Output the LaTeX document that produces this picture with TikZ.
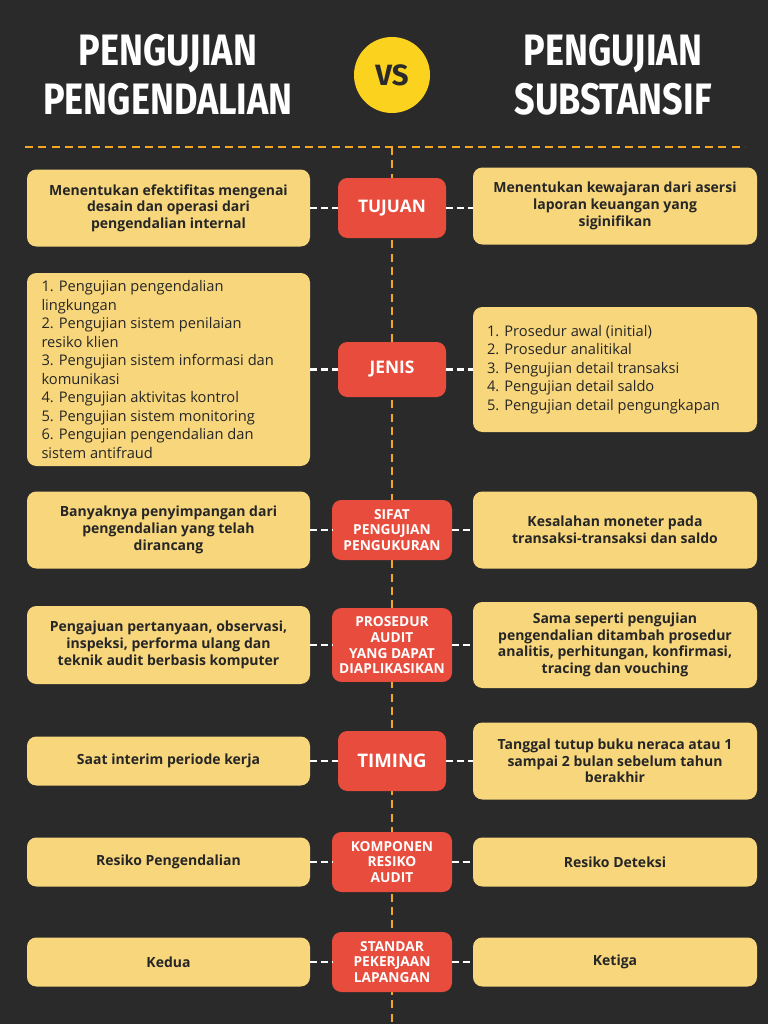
\documentclass[tikz,border=0pt]{standalone}
\usepackage{fontspec}
\setmainfont{Open Sans}
\newfontfamily\titlefont{Fira Sans}
\begin{document}
\begin{tikzpicture}[x=0.75pt,y=-0.75pt,
  yb/.style={fill=boxy,rounded corners=7pt,inner sep=0pt,font=\bfseries\fontsize{10.5}{12.5}\selectfont,text=black!85,align=center},
  rb/.style={fill=boxr,rounded corners=7pt,inner sep=0pt,font=\bfseries\fontsize{10.3}{11.8}\selectfont,text=white,align=center},
  conn/.style={white,line width=2pt,dash pattern=on 5pt off 3pt},
  ttl/.style={text=white,font=\titlefont\bfseries\fontsize{33}{37}\selectfont,align=center,xscale=0.82}]
\definecolor{bg}{HTML}{2A2A2A}
\definecolor{boxy}{HTML}{F7D67C}
\definecolor{boxr}{HTML}{E84C3D}
\definecolor{orn}{HTML}{F5A623}
\definecolor{vsy}{HTML}{FBD21E}
\fill[bg] (0,0) rectangle (768,1024);
\useasboundingbox (0,0) rectangle (768,1024);
\node[ttl] (tl) at (168,75) {PENGUJIAN\\PENGENDALIAN};
\node[ttl] (tr) at (613,75) {PENGUJIAN\\SUBSTANSIF};
\node[circle,fill=vsy,minimum size=76*0.75pt,inner sep=0pt,text=bg,font=\titlefont\bfseries\fontsize{22}{24}\selectfont] (vs) at (392,75) {VS};
\coordinate (hl) at (25,147); \coordinate (hr) at (745,147); \coordinate (vb) at (392,1024);
\draw[orn,line width=2pt,dash pattern=on 6pt off 4pt] (hl) -- (hr);
\draw[orn,line width=2pt,dash pattern=on 6pt off 4pt] (392,147) -- (vb);
\newcommand{\myrow}[9]{%
  \node[yb,minimum width=283*0.75pt,minimum height=#3*0.75pt] (L#1) at (168.5,#2) {#7};
  \node[yb,minimum width=284*0.75pt,minimum height=#5*0.75pt] (R#1) at (615,#4) {#9};
  \node[rb,minimum width=#6*0.75pt,minimum height=60*0.75pt] (C#1) at (392,#2) {#8};
  \draw[conn] (L#1.east) -- (C#1.west);
  \draw[conn] (C#1.east) -- (R#1.west |- C#1.east);
}
\myrow{1}{208}{77}{206}{77}{108}{Menentukan efektifitas mengenai\\desain dan operasi dari\\pengendalian internal}{\fontsize{13}{15}\selectfont TUJUAN}{Menentukan kewajaran dari asersi\\laporan keuangan yang\\siginifikan}
\node[yb,minimum width=283*0.75pt,minimum height=193*0.75pt,font=\fontsize{11}{13.9}\selectfont] (L2) at (168.5,369.5) {\begin{minipage}{254\dimexpr0.75pt\relax}\raggedright 1. Pengujian pengendalian\\lingkungan\\2. Pengujian sistem penilaian\\resiko klien\\3. Pengujian sistem informasi dan\\komunikasi\\4. Pengujian aktivitas kontrol\\5. Pengujian sistem monitoring\\6. Pengujian pengendalian dan\\sistem antifraud\end{minipage}};
\node[yb,minimum width=284*0.75pt,minimum height=125*0.75pt,font=\fontsize{11}{13.9}\selectfont] (R2) at (615,369.5) {\begin{minipage}{256\dimexpr0.75pt\relax}\raggedright 1. Prosedur awal (initial)\\2. Prosedur analitikal\\3. Pengujian detail transaksi\\4. Pengujian detail saldo\\5. Pengujian detail pengungkapan\end{minipage}};
\node[rb,minimum width=108*0.75pt,minimum height=55*0.75pt,font=\bfseries\fontsize{13}{15}\selectfont] (C2) at (392,369.5) {JENIS};
\draw[conn] (L2.east) -- (C2.west);
\draw[conn] (C2.east) -- (R2.west);
\myrow{3}{530}{77}{530}{77}{120}{Banyaknya penyimpangan dari\\pengendalian yang telah\\dirancang}{SIFAT\\PENGUJIAN\\PENGUKURAN}{Kesalahan moneter pada\\transaksi-transaksi dan saldo}
\myrow{4}{645}{78}{645}{86}{120}{Pengajuan pertanyaan, observasi,\\inspeksi, performa ulang dan\\teknik audit berbasis komputer}{\rule{0pt}{14pt}PROSEDUR\\AUDIT\\YANG DAPAT\\DIAPLIKASIKAN\rule[-6pt]{0pt}{0pt}}{Sama seperti pengujian\\pengendalian ditambah prosedur\\analitis, perhitungan, konfirmasi,\\tracing dan vouching}
\myrow{5}{761}{49}{761}{77}{108}{Saat interim periode kerja}{\fontsize{14}{16}\selectfont TIMING}{Tanggal tutup buku neraca atau 1\\sampai 2 bulan sebelum tahun\\berakhir}
\myrow{6}{862}{49}{862}{49}{120}{Resiko Pengendalian}{KOMPONEN\\RESIKO\\AUDIT}{Resiko Deteksi}
\myrow{7}{962}{49}{962}{49}{120}{Kedua}{STANDAR\\PEKERJAAN\\LAPANGAN}{Ketiga}
\end{tikzpicture}
\end{document}
